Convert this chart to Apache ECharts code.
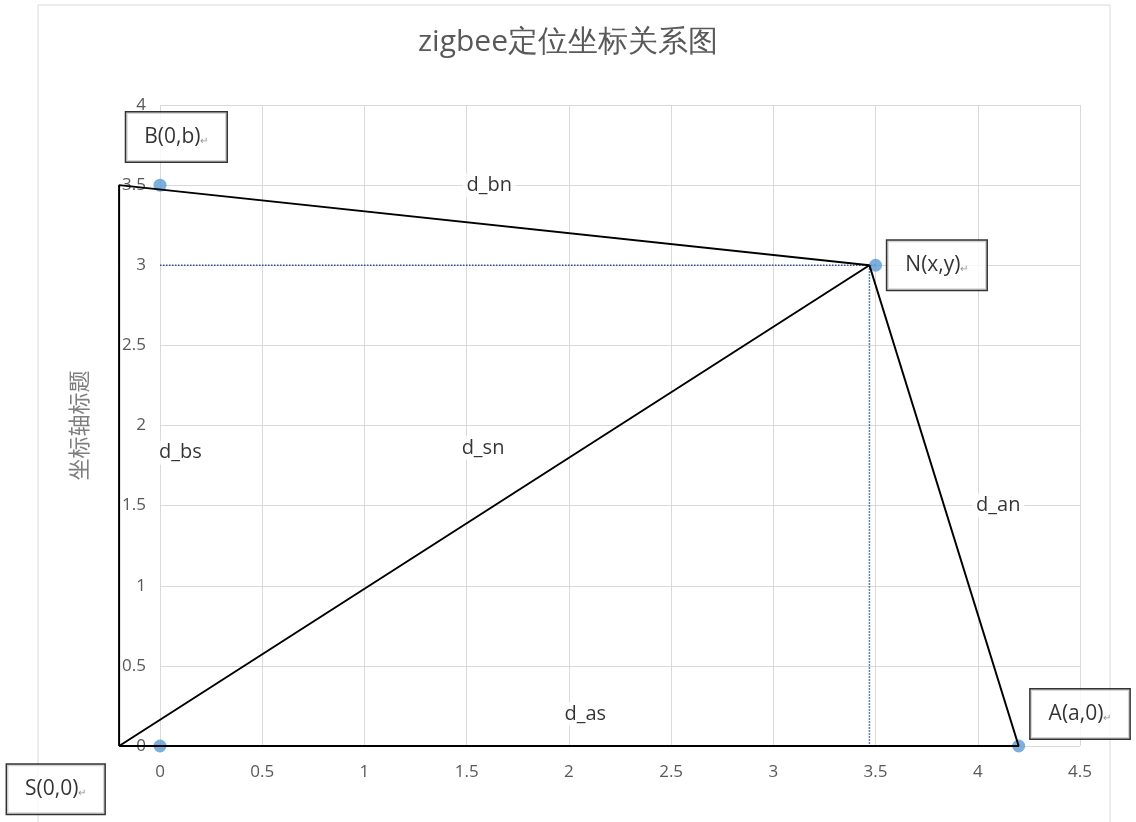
<!DOCTYPE html>
<html><head><meta charset="utf-8">
<script src="https://cdn.jsdelivr.net/npm/echarts@6/dist/echarts.min.js"></script>
<style>html,body{margin:0;padding:0;background:#fff}#c{width:1136px;height:822px}</style>
</head><body><div id="c"></div>
<script>
var pointsX = [0, 0, 3.5, 4.2];
var pointsY = [0, 3.5, 3, 0];
var triX = [-0.2, -0.2, 3.47, -0.2, 3.47, 4.2, -0.2];
var triY = [0, 3.5, 3, 0, 3, 0, 0];
var dotHX = [0, 3.5], dotHY = [3, 3];
var dotVX = [3.47, 3.47], dotVY = [3, 0];
var boxText = ['B(0,b)', 'N(x,y)', 'A(a,0)', 'S(0,0)'];
var boxX = [0.08, 3.8, 4.5, -0.51];
var boxY = [3.8, 3.0, 0.2, -0.27];
var segText = ['d_bn', 'd_bs', 'd_sn', 'd_an', 'd_as'];
var segX = [1.61, 0.1, 1.58, 4.1, 2.08];
var segY = [3.5, 1.83, 1.86, 1.5, 0.2];
function zip(a, b) { return a.map(function (v, i) { return [v, b[i]]; }); }
var font = 'Open Sans, Liberation Sans, sans-serif';
var chart = echarts.init(document.getElementById('c'));
chart.setOption({
  animation: false,
  title: { text: 'zigbee定位坐标关系图', left: 'center', top: 22,
    textStyle: { fontSize: 30, fontWeight: 'normal', color: '#595959', fontFamily: font } },
  graphic: [{ type: 'rect', shape: { x: 38, y: 5, width: 1072, height: 840 },
    style: { fill: 'none', stroke: '#d9d9d9', lineWidth: 1 }, z: -10 }],
  grid: [{ left: 160, right: 56, top: 105, bottom: 76 },
         { left: 119.1, right: 56, top: 105, bottom: 76 }],
  xAxis: [{ type: 'value', min: 0, max: 4.5, interval: 0.5, gridIndex: 0,
    axisLine: { show: false }, axisTick: { show: false },
    splitLine: { lineStyle: { color: '#d9d9d9' } },
    axisLabel: { color: '#595959', fontSize: 17, margin: 18, fontFamily: font } },
    { type: 'value', min: -0.2, max: 4.5, gridIndex: 1, show: false }],
  yAxis: [{ type: 'value', min: 0, max: 4, interval: 0.5, gridIndex: 0,
    name: '坐标轴标题', nameLocation: 'middle', nameGap: 70,
    nameTextStyle: { color: '#7f7f7f', fontSize: 22, fontFamily: 'Noto Sans CJK SC' },
    axisLine: { show: false }, axisTick: { show: false },
    splitLine: { lineStyle: { color: '#d9d9d9' } },
    axisLabel: { color: '#595959', fontSize: 17, margin: 14, fontFamily: font } },
    { type: 'value', min: 0, max: 4, gridIndex: 1, show: false }],
  series: [
    { type: 'line', data: zip(dotHX, dotHY), symbol: 'none',
      lineStyle: { color: '#2f5597', width: 1.5, type: 'dotted' } },
    { type: 'line', data: zip(dotVX, dotVY), symbol: 'none',
      lineStyle: { color: '#2f5597', width: 1.5, type: 'dotted' } },
    { type: 'scatter', data: zip(pointsX, pointsY), symbolSize: 13, clip: false,
      itemStyle: { color: '#5b9bd5' }, z: 3 },
    { type: 'line', data: zip(triX, triY), symbol: 'none', xAxisIndex: 1, yAxisIndex: 1,
      lineStyle: { color: '#000', width: 2 }, z: 4 },
    { type: 'scatter', data: zip(segX, segY), symbolSize: 0, clip: false, z: 5,
      label: { show: true, position: 'inside', color: '#000', fontSize: 20, fontFamily: font,
        backgroundColor: '#fff', padding: [2, 4],
        formatter: function (p) { return segText[p.dataIndex]; } } },
    { type: 'scatter', data: zip(boxX, boxY), symbolSize: 0, clip: false, z: 6,
      label: { show: true, position: 'inside', color: '#000', fontSize: 21, fontFamily: font,
        backgroundColor: '#fff', borderColor: '#000', borderWidth: 1.5,
        padding: [14, 18, 14, 18],
        formatter: function (p) { return boxText[p.dataIndex] + '{r|↵}'; },
        rich: { r: { fontSize: 10, color: '#777', padding: [8, 0, 0, 0] } } } }
  ]
});
</script></body></html>
